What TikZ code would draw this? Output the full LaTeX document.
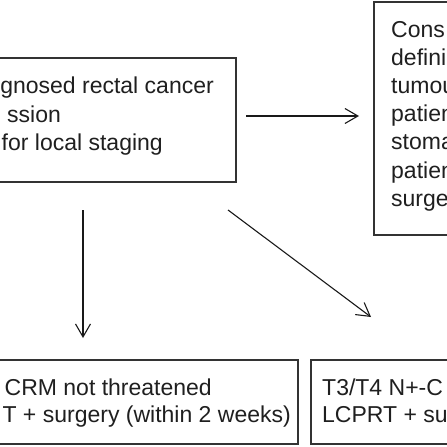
\documentclass[tikz,border=0pt]{standalone}
\usepackage{fontspec}
\setmainfont{Liberation Sans}
\usetikzlibrary{arrows.meta}

\newcommand{\flowFont}{\fontsize{23pt}{28pt}\selectfont}
\newcommand{\rowGap}{28.2}

\begin{document}
\begin{tikzpicture}[x=1pt, y=-1pt,
    box/.style={draw=black!80, line width=2.2pt, inner sep=0pt},
    frag/.style={inner sep=0pt, text=black!88, font=\flowFont},
    link/.style={draw=black!90, line width=1.1pt, -{Straight Barb[length=13pt, width=15pt]}}]
  \useasboundingbox (0,0) rectangle (447,447);
  \clip (0,0) rectangle (447,447);

  % boxes
  \node[box, minimum width=252pt, minimum height=124pt, anchor=north east] (diag) at (237,57) {};
  \node[box, minimum width=90pt, minimum height=233pt, anchor=north west] (cons) at (373,1) {};
  \node[box, minimum width=315pt, minimum height=84pt, anchor=south east] (low) at (299,445) {};
  \node[box, minimum width=150pt, minimum height=84pt, anchor=south west] (high) at (310,445) {};

  % texts
  \node[frag, anchor=base east] (diagA) at (214,93) {gnosed rectal cancer};
  \node[frag, anchor=base west] (diagB) at (7,122) {ssion};
  \node[frag, anchor=base east] (diagC) at (163,150) {for local staging};

  \node[frag, anchor=base west] (consA) at (391,37) {Cons};
  \node[frag, anchor=base west] (consB) at (391,37+\rowGap*1) {defini};
  \node[frag, anchor=base west] (consC) at (391,37+\rowGap*2) {tumou};
  \node[frag, anchor=base west] (consD) at (391,37+\rowGap*3) {patien};
  \node[frag, anchor=base west] (consE) at (391,37+\rowGap*4) {stoma};
  \node[frag, anchor=base west] (consF) at (391,37+\rowGap*5) {patien};
  \node[frag, anchor=base west] (consG) at (391,37+\rowGap*6) {surge};

  \node[frag, anchor=base east] (lowA) at (212,395) {CRM not threatened};
  \node[frag, anchor=base east] (lowB) at (291,422) {T + surgery (within 2 weeks)};

  \node[frag, anchor=base west] (highA) at (322,395) {T3/T4 N+-C};
  \node[frag, anchor=base west] (highB) at (322,422) {LCPRT + su};

  % arrows
  \coordinate (rightFrom) at (246,116);
  \coordinate (rightTo) at (359,116);
  \coordinate (downFrom) at (83,210);
  \coordinate (downTo) at (83,338);
  \coordinate (slantFrom) at (228,210);
  \coordinate (slantTo) at (371,317);

  \draw[link] (rightFrom) -- (rightTo);
  \draw[link] (downFrom) -- (downTo);
  \draw[link] (slantFrom) -- (slantTo);
\end{tikzpicture}
\end{document}
